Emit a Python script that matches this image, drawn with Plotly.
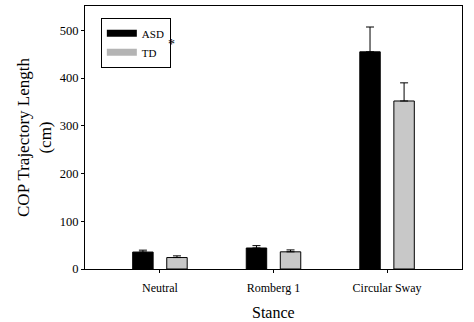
import plotly.graph_objects as go

categories = ["Neutral", "Romberg 1", "Circular Sway"]
asd_values = [35.5, 44, 455]
asd_errors = [4, 5, 52]
td_values = [24, 36, 352]
td_errors = [3.5, 4, 38]
y_ticks = [0, 100, 200, 300, 400, 500]

FONT = "Liberation Serif"
ASD_COLOR = "black"
TD_COLOR = "#c8c8c8"

fig = go.Figure()
fig.add_trace(go.Bar(
    name="ASD", x=categories, y=asd_values, showlegend=False, legendgroup="asd",
    marker=dict(color=ASD_COLOR, line=dict(color="black", width=1)),
    error_y=dict(type="data", array=asd_errors, arrayminus=[0]*3, symmetric=False,
                 color="black", thickness=1, width=4),
))
fig.add_trace(go.Bar(
    name="TD", x=categories, y=td_values, showlegend=False, legendgroup="td",
    marker=dict(color=TD_COLOR, line=dict(color="black", width=1)),
    error_y=dict(type="data", array=td_errors, arrayminus=[0]*3, symmetric=False,
                 color="black", thickness=1, width=4),
))
# legend entries (wide rectangular swatches)
fig.add_trace(go.Scatter(name="ASD", x=[None], y=[None], mode="lines", legendgroup="asd",
                         line=dict(color=ASD_COLOR, width=7)))
fig.add_trace(go.Scatter(name="TD", x=[None], y=[None], mode="lines", legendgroup="td",
                         line=dict(color="#b4b4b4", width=7)))

fig.update_layout(
    width=474, height=322,
    margin=dict(l=85, r=12, t=6, b=53),
    paper_bgcolor="white", plot_bgcolor="white",
    barmode="group", bargap=0.4, bargroupgap=0.4,
    font=dict(family=FONT, color="black", size=12),
    showlegend=True,
    legend=dict(x=0.042, y=0.955, xanchor="left", yanchor="top",
                bgcolor="white", bordercolor="black", borderwidth=1,
                font=dict(family=FONT, size=11), tracegroupgap=0, itemwidth=30),
)
fig.update_xaxes(
    range=[-0.66, 2.66], showline=True, linecolor="black", linewidth=1, mirror=True,
    ticks="outside", ticklen=3, tickcolor="black", ticklabelstandoff=5,
    tickfont=dict(family=FONT, size=12), automargin=False,
)
fig.update_yaxes(
    range=[0, 551], showline=True, linecolor="black", linewidth=1, mirror=True,
    tickvals=y_ticks, ticks="outside", ticklen=3, tickcolor="black",
    tickfont=dict(family=FONT, size=12.5), showgrid=False, zeroline=False,
    title=dict(text="COP Trajectory Length<br>(cm)", font=dict(family=FONT, size=17), standoff=3),
)
fig.add_annotation(text="Stance", x=0.5, y=0, xref="paper", yref="paper",
                   xanchor="center", yanchor="middle", yshift=-43,
                   showarrow=False, font=dict(family=FONT, size=16, color="black"))
fig.add_annotation(text="*", x=0.216, y=0.888, xref="paper", yref="paper",
                   showarrow=False, font=dict(family=FONT, size=14, color="black"))

fig.write_html("out.html")
